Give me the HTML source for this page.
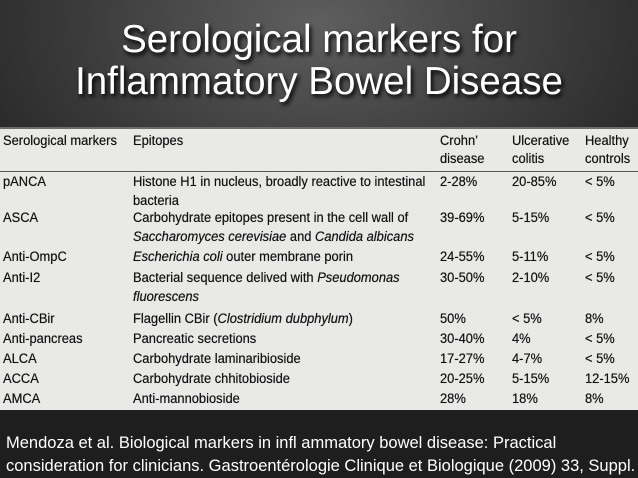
<!DOCTYPE html>
<html><head><meta charset="utf-8"><style>
body{margin:0;width:638px;height:478px;overflow:hidden;background:radial-gradient(ellipse 70% 60% at 50% 5%,#5e5e5e 0%,#3a3a3a 55%,#1e1e1e 100%);font-family:"Liberation Sans",sans-serif;position:relative}
.t{position:absolute;left:0;width:638px;text-align:center;color:#fff;font-size:38.5px;text-shadow:2px 3px 4px #000;line-height:42px}
#tbl{position:absolute;left:0;top:127px;width:638px;height:281px;background:#e9e9e8;border-top:2px solid #6b6b6b}
.hl{position:absolute;left:0;width:638px;top:42px;height:1px;background:#555}
.c{position:absolute;font-size:13.5px;color:#111;white-space:nowrap;transform:scaleX(0.955);transform-origin:left;line-height:19px;text-shadow:0 0 0.5px #333}
.f{position:absolute;left:6px;color:#fff;font-size:16.5px;white-space:nowrap}
</style></head><body>
<div class="t" style="top:19px">Serological markers for<br>Inflammatory Bowel Disease</div>
<div id="tbl"><div class="hl"></div></div>
<div class="f" style="top:434px">Mendoza et al. Biological markers in infl ammatory bowel disease: Practical</div>
<div class="f" style="top:457px">consideration for clinicians. Gastroentérologie Clinique et Biologique (2009) 33, Suppl.</div>
<script>
const headers=[["Serological markers",3,133],["Epitopes",133,133],["Crohn’",440,133],["disease",440,151],["Ulcerative",512,133],["colitis",512,151],["Healthy",585,133],["controls",585,151]];
const rows=[
["pANCA","Histone H1 in nucleus, broadly reactive to intestinal<br>bacteria","2-28%","20-85%","&lt; 5%",174],
["ASCA","Carbohydrate epitopes present in the cell wall of<br><i>Saccharomyces cerevisiae</i> and <i>Candida albicans</i>","39-69%","5-15%","&lt; 5%",210],
["Anti-OmpC","<i>Escherichia coli</i> outer membrane porin","24-55%","5-11%","&lt; 5%",249],
["Anti-I2","Bacterial sequence delived with <i>Pseudomonas</i><br><i>fluorescens</i>","30-50%","2-10%","&lt; 5%",270],
["Anti-CBir","Flagellin CBir (<i>Clostridium dubphylum</i>)","50%","&lt; 5%","8%",311],
["Anti-pancreas","Pancreatic secretions","30-40%","4%","&lt; 5%",331],
["ALCA","Carbohydrate laminaribioside","17-27%","4-7%","&lt; 5%",351],
["ACCA","Carbohydrate chhitobioside","20-25%","5-15%","12-15%",371],
["AMCA","Anti-mannobioside","28%","18%","8%",391]];
const xs=[3,133,440,512,585];
function add(html,x,y,name){const d=document.createElement('div');d.className='c';d.style.left=x+'px';d.style.top=(y-2.5)+'px';d.innerHTML=html;


document.body.appendChild(d);}
headers.forEach(h=>add(h[0],h[1],h[2],'header-cell'));
rows.forEach(r=>{for(let k=0;k<5;k++)add(r[k],xs[k],r[5],'table-cell');});
</script>
</body></html>
